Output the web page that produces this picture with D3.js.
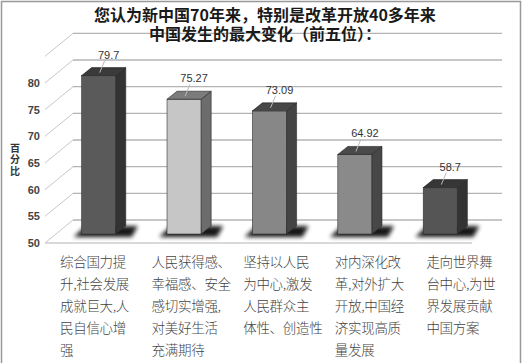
<!DOCTYPE html>
<html>
<head>
<meta charset="utf-8">
<script src="https://cdn.jsdelivr.net/npm/d3@7/dist/d3.min.js"></script>
<style>
  html, body { margin: 0; padding: 0; background: #fff; }
  svg { display: block; }
  .cat { font-family: "Noto Sans CJK SC", sans-serif; font-size: 13.5px; font-weight: 300; fill: #444; letter-spacing: -0.3px; }
  .tick-lbl { font-family: "Liberation Sans", Arial, sans-serif; font-size: 11px; font-weight: bold; fill: #444; }
  .val { font-family: "Liberation Sans", Arial, sans-serif; font-size: 11px; fill: #333; }
  .title { font-family: "Noto Sans CJK SC", sans-serif; font-size: 16px; font-weight: bold; fill: #1a1a1a; }
  .ytitle { font-family: "Noto Sans CJK SC", sans-serif; font-size: 10px; font-weight: bold; fill: #333;
            writing-mode: vertical-rl; letter-spacing: 1.5px; }
</style>
</head>
<body>
<div id="chart"></div>
<script>
// chart data
var categories = ['c1', 'c2', 'c3', 'c4', 'c5'];
var values = [79.7, 75.27, 73.09, 64.92, 58.7];
var valueLabels = ['79.7', '75.27', '73.09', '64.92', '58.7'];
var categoryLines = [
    ['综合国力提', '升,社会发展', '成就巨大,人', '民自信心增', '强'],
    ['人民获得感、', '幸福感、安全', '感切实增强,', '对美好生活', '充满期待'],
    ['坚持以人民', '为中心,激发', '人民群众主', '体性、创造性'],
    ['对内深化改', '革,对外扩大', '开放,中国经', '济实现高质', '量发展'],
    ['走向世界舞', '台中心,为世', '界发展贡献', '中国方案']
];
var yTicks = [50, 55, 60, 65, 70, 75, 80];
var titleLines = ['您认为新中国70年来，特别是改革开放40多年来', '中国发生的最大变化（前五位）：'];
var yTitle = '百分比';

// grey palette per bar: front, side, top
var barColors = [
    {front: '#5a5a5a', side: '#333', top: '#3a3a3a'},
    {front: '#c6c6c6', side: '#6c6c6c', top: '#7c7c7c'},
    {front: '#878787', side: '#444', top: '#474747'},
    {front: '#8a8a8a', side: '#474747', top: '#4a4a4a'},
    {front: '#555', side: '#333', top: '#363636'}
];

var W = 524, H = 363;
var depth = {dx: 28, dy: -23};      // floor / wall depth
var barOff = {dx: 11, dy: -9};      // bar front face inside the depth
var barDepth = {dx: 10, dy: -8};

var svg = d3.select('#chart').append('svg').attr('width', W).attr('height', H);

var defs = svg.append('defs');
defs.append('filter').attr('id', 'blur').attr('x', '-50%').attr('y', '-50%').attr('width', '200%').attr('height', '200%')
    .append('feGaussianBlur').attr('stdDeviation', 2.2);

// frame
svg.append('path').attr('d', 'M1.5,' + H + 'V1.5H520.5V' + H)
    .attr('fill', 'none').attr('stroke', '#999').attr('stroke-width', 1.5);

var x = d3.scaleBand().domain(categories).range([45, 472]).paddingInner(0.6).paddingOuter(0.3);
var y = d3.scaleLinear().domain([50, 80]).range([243, 83]);
var xLabel = d3.scaleBand().domain(categories).range([60, 518]);

// walls
var grid = svg.append('g');
yTicks.concat([85]).forEach(function (t) {
    grid.append('line')
        .attr('x1', x.range()[0]).attr('y1', y(t))
        .attr('x2', x.range()[0] + depth.dx).attr('y2', y(t) + depth.dy)
        .attr('stroke', '#c8c8c8').attr('stroke-width', 1);
    grid.append('line')
        .attr('x1', x.range()[0] + depth.dx).attr('y1', y(t) + depth.dy)
        .attr('x2', 502).attr('y2', y(t) + depth.dy)
        .attr('stroke', '#b4b4b4').attr('stroke-width', 1.4);
});
// floor front edge
grid.append('line')
    .attr('x1', x.range()[0]).attr('y1', y(50))
    .attr('x2', x.range()[1]).attr('y2', y(50))
    .attr('stroke', '#ccc').attr('stroke-width', 1.4);

// tick labels
svg.append('g').selectAll('text').data(yTicks).join('text')
    .attr('class', 'tick-lbl')
    .attr('x', 40).attr('y', function (d) { return y(d) + 4; })
    .attr('text-anchor', 'end')
    .text(function (d) { return d; });

// y axis title, vertical
svg.append('text').attr('class', 'ytitle')
    .attr('x', 15).attr('y', 143)
    .text(yTitle);

// bars
var bars = svg.append('g');
categories.forEach(function (c, i) {
    var x0 = x(c) + barOff.dx, x1 = x0 + x.bandwidth();
    var yb = y(50) + barOff.dy, yt = y(values[i]) + barOff.dy;
    var col = barColors[i];
    // shadow on floor
    bars.append('path')
        .attr('d', 'M' + (x0 - 8) + ',' + (yb + 3) + 'L' + (x1 + 16) + ',' + (yb + 3) +
            'L' + (x1 + barDepth.dx + 12) + ',' + (yb - 8) + 'L' + (x0 + 4) + ',' + (yb - 8) + 'Z')
        .attr('fill', '#000').attr('opacity', 0.9).attr('filter', 'url(#blur)');
    // front
    bars.append('rect').attr('x', x0).attr('y', yt).attr('width', x1 - x0).attr('height', yb - yt)
        .attr('fill', col.front).attr('stroke', '#333').attr('stroke-width', 0.6);
    // side
    bars.append('path')
        .attr('d', 'M' + x1 + ',' + yb + 'L' + x1 + ',' + yt + 'L' + (x1 + barDepth.dx) + ',' + (yt + barDepth.dy) +
            'L' + (x1 + barDepth.dx) + ',' + (yb + barDepth.dy) + 'Z')
        .attr('fill', col.side).attr('stroke', '#2a2a2a').attr('stroke-width', 0.6);
    // top
    bars.append('path')
        .attr('d', 'M' + x0 + ',' + yt + 'L' + x1 + ',' + yt + 'L' + (x1 + barDepth.dx) + ',' + (yt + barDepth.dy) +
            'L' + (x0 + barDepth.dx) + ',' + (yt + barDepth.dy) + 'Z')
        .attr('fill', col.top).attr('stroke', '#222').attr('stroke-width', 0.6);

    // value label with leader
    var lx = x0 + x.bandwidth() / 2 + 10, ly = yt - 17;
    bars.append('line')
        .attr('x1', lx - 4).attr('y1', ly + 2)
        .attr('x2', lx - 9).attr('y2', yt - 3)
        .attr('stroke', '#bbb').attr('stroke-width', 1);
    bars.append('text').attr('class', 'val')
        .attr('x', lx).attr('y', ly)
        .attr('text-anchor', 'middle')
        .text(valueLabels[i]);
});

// category labels
var cats = svg.append('g');
categories.forEach(function (c, i) {
    var t = cats.append('text').attr('class', 'cat');
    categoryLines[i].forEach(function (line, j) {
        t.append('tspan').attr('x', xLabel(c)).attr('y', 267 + j * 22).text(line);
    });
});

// title, two lines in one text
var title = svg.append('text').attr('class', 'title').attr('text-anchor', 'middle');
titleLines.forEach(function (line, i) {
    title.append('tspan').attr('x', 265).attr('y', 21 + i * 18.5).text(line);
});
</script>
</body>
</html>
